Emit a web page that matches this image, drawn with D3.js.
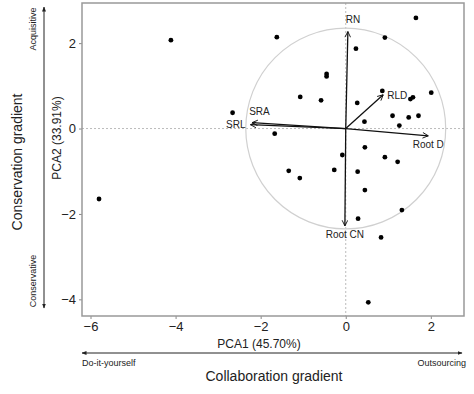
<!DOCTYPE html>
<html>
<head>
<meta charset="utf-8">
<script src="https://cdn.jsdelivr.net/npm/d3@7"></script>
<style>
    body { margin: 0; background: #fff; }
    svg { display: block; font-family: "Liberation Sans", Arial, sans-serif; }
</style>
</head>
<body>
<div id="chart"></div>
<script>
// site scores (PCA1, PCA2)
const pca1 = [-5.80, -4.11, -2.66, -1.62, -0.45, -0.45, -1.07, -0.58, 0.24, 0.27, 1.65, 0.92, 0.86, 2.01, 1.52, 1.58, 1.10, 1.48,
    1.71, 0.44, 1.26, -1.67, -0.08, -1.34, -1.08, -0.27, 0.28, 0.45, 0.92, 1.22, 0.45, 1.32, 0.29, 0.83, 0.53]
const pca2 = [-1.65, 2.07, 0.37, 2.14, 1.28, 1.22, 0.74, 0.66, 1.87, 0.60, 2.59, 2.13, 0.88, 0.84, 0.69, 0.73, 0.30, 0.26,
    0.30, 0.16, 0.07, -0.12, -0.62, -0.99, -1.16, -0.97, -1.01, -0.44, -0.67, -0.78, -1.44, -1.91, -2.11, -2.55, -4.07]

// trait loadings
const traits = ['RN', 'RLD', 'Root D', 'Root CN', 'SRL', 'SRA']
const loadX = [0.05, 0.88, 1.94, -0.02, -2.24, -2.20]
const loadY = [2.27, 0.79, -0.17, -2.28, 0.09, 0.14]

const xTicks = [-6, -4, -2, 0, 2]
const yTicks = [-4, -2, 0, 2]
const circleRadius = 2.35

const width = 474, height = 394
const panel = {left: 82, right: 464, top: 3, bottom: 316}

const svg = d3.select('#chart').append('svg')
    .attr('width', width)
    .attr('height', height)

const x = d3.scaleLinear().domain([-6.2, 2.78]).range([panel.left, panel.right])
const y = d3.scaleLinear().domain([-4.39, 2.94]).range([panel.bottom, panel.top])

// arrow heads
const defs = svg.append('defs')
defs.append('marker')
    .attr('id', 'open')
    .attr('viewBox', '0 0 10 10')
    .attr('refX', 9).attr('refY', 5)
    .attr('markerWidth', 7).attr('markerHeight', 7)
    .attr('markerUnits', 'userSpaceOnUse')
    .attr('orient', 'auto-start-reverse')
    .append('path')
    .attr('d', 'M1,1 L9,5 L1,9')
    .attr('fill', 'none')
    .attr('stroke', '#111')
    .attr('stroke-width', 1.3)
defs.append('marker')
    .attr('id', 'solid')
    .attr('viewBox', '0 0 10 10')
    .attr('refX', 9).attr('refY', 5)
    .attr('markerWidth', 5).attr('markerHeight', 5)
    .attr('markerUnits', 'userSpaceOnUse')
    .attr('orient', 'auto-start-reverse')
    .append('path')
    .attr('d', 'M0,1 L10,5 L0,9 Z')
    .attr('fill', '#222')

//zero lines
svg.append('line')
    .attr('x1', panel.left).attr('x2', panel.right)
    .attr('y1', y(0)).attr('y2', y(0))
    .attr('stroke', '#bbb').attr('stroke-dasharray', '2,2')
svg.append('line')
    .attr('x1', x(0)).attr('x2', x(0))
    .attr('y1', panel.top).attr('y2', panel.bottom)
    .attr('stroke', '#bbb').attr('stroke-dasharray', '2,2')

//correlation circle
svg.append('ellipse')
    .attr('cx', x(0)).attr('cy', y(0))
    .attr('rx', x(circleRadius) - x(0))
    .attr('ry', y(0) - y(circleRadius))
    .attr('fill', 'none')
    .attr('stroke', '#d0d0d0')
    .attr('stroke-width', 1.2)

//axes
const xAxis = svg.append('g')
    .attr('transform', `translate(0,${panel.bottom})`)
    .call(d3.axisBottom(x).tickValues(xTicks).tickSize(3).tickPadding(3))
const yAxis = svg.append('g')
    .attr('transform', `translate(${panel.left},0)`)
    .call(d3.axisLeft(y).tickValues(yTicks).tickSize(3).tickPadding(3))
for (const g of [xAxis, yAxis]) {
    g.select('.domain').remove()
    g.selectAll('.tick line').attr('stroke', '#888')
    g.selectAll('.tick text')
        .attr('font-size', 13)
        .attr('font-family', '"Liberation Sans", Arial, sans-serif')
        .attr('fill', '#222')
}

//panel border
svg.append('rect')
    .attr('x', panel.left).attr('y', panel.top)
    .attr('width', panel.right - panel.left)
    .attr('height', panel.bottom - panel.top)
    .attr('fill', 'none')
    .attr('stroke', '#999')
    .attr('stroke-width', 1.5)

//points
svg.append('g')
    .selectAll('circle')
    .data(d3.range(pca1.length))
    .join('circle')
    .attr('cx', i => x(pca1[i]))
    .attr('cy', i => y(pca2[i]))
    .attr('r', 2.4)
    .attr('fill', '#000')

//loading arrows
svg.append('g')
    .selectAll('line')
    .data(d3.range(traits.length))
    .join('line')
    .attr('x1', x(0)).attr('y1', y(0))
    .attr('x2', i => x(loadX[i]))
    .attr('y2', i => y(loadY[i]))
    .attr('stroke', '#111')
    .attr('stroke-width', 1.3)
    .attr('marker-end', 'url(#open)')

// label offsets [dx, dy, anchor]
const labelPos = {
    'RN': [-2, -9, 'start'],
    'RLD': [4, 4, 'start'],
    'Root D': [0, 12, 'middle'],
    'Root CN': [0, 12, 'middle'],
    'SRL': [-5, 3, 'end'],
    'SRA': [-3, -8, 'start']
}
svg.append('g')
    .selectAll('text')
    .data(d3.range(traits.length))
    .join('text')
    .attr('x', i => x(loadX[i]) + labelPos[traits[i]][0])
    .attr('y', i => y(loadY[i]) + labelPos[traits[i]][1])
    .attr('text-anchor', i => labelPos[traits[i]][2])
    .attr('font-size', 10)
    .attr('fill', '#222')
    .text(i => traits[i])

//axis titles
svg.append('text')
    .attr('x', 259)
    .attr('y', 348)
    .attr('text-anchor', 'middle')
    .attr('font-size', 12)
    .attr('fill', '#222')
    .text('PCA1 (45.70%)')
svg.append('text')
    .attr('transform', `translate(61,138) rotate(-90)`)
    .attr('text-anchor', 'middle')
    .attr('font-size', 12)
    .attr('fill', '#222')
    .text('PCA2 (33.91%)')

//gradient arrows
svg.append('line')
    .attr('x1', panel.left).attr('x2', 462)
    .attr('y1', 353).attr('y2', 353)
    .attr('stroke', '#222').attr('stroke-width', 1)
    .attr('marker-start', 'url(#solid)')
    .attr('marker-end', 'url(#solid)')
svg.append('line')
    .attr('x1', 44).attr('x2', 44)
    .attr('y1', 7).attr('y2', 308)
    .attr('stroke', '#222').attr('stroke-width', 1)
    .attr('marker-start', 'url(#solid)')
    .attr('marker-end', 'url(#solid)')

svg.append('text')
    .attr('x', panel.left).attr('y', 366)
    .attr('font-size', 9).attr('fill', '#222')
    .text('Do-it-yourself')
svg.append('text')
    .attr('x', 466).attr('y', 366)
    .attr('text-anchor', 'end')
    .attr('font-size', 9).attr('fill', '#222')
    .text('Outsourcing')
svg.append('text')
    .attr('transform', 'translate(36,29) rotate(-90)')
    .attr('text-anchor', 'middle')
    .attr('font-size', 9).attr('fill', '#222')
    .text('Acquisitive')
svg.append('text')
    .attr('transform', 'translate(36,281) rotate(-90)')
    .attr('text-anchor', 'middle')
    .attr('font-size', 9).attr('fill', '#222')
    .text('Conservative')

svg.append('text')
    .attr('x', 274).attr('y', 381)
    .attr('text-anchor', 'middle')
    .attr('font-size', 14).attr('fill', '#222')
    .text('Collaboration gradient')
svg.append('text')
    .attr('transform', 'translate(22,162) rotate(-90)')
    .attr('text-anchor', 'middle')
    .attr('font-size', 14).attr('fill', '#222')
    .text('Conservation gradient')
</script>
</body>
</html>
